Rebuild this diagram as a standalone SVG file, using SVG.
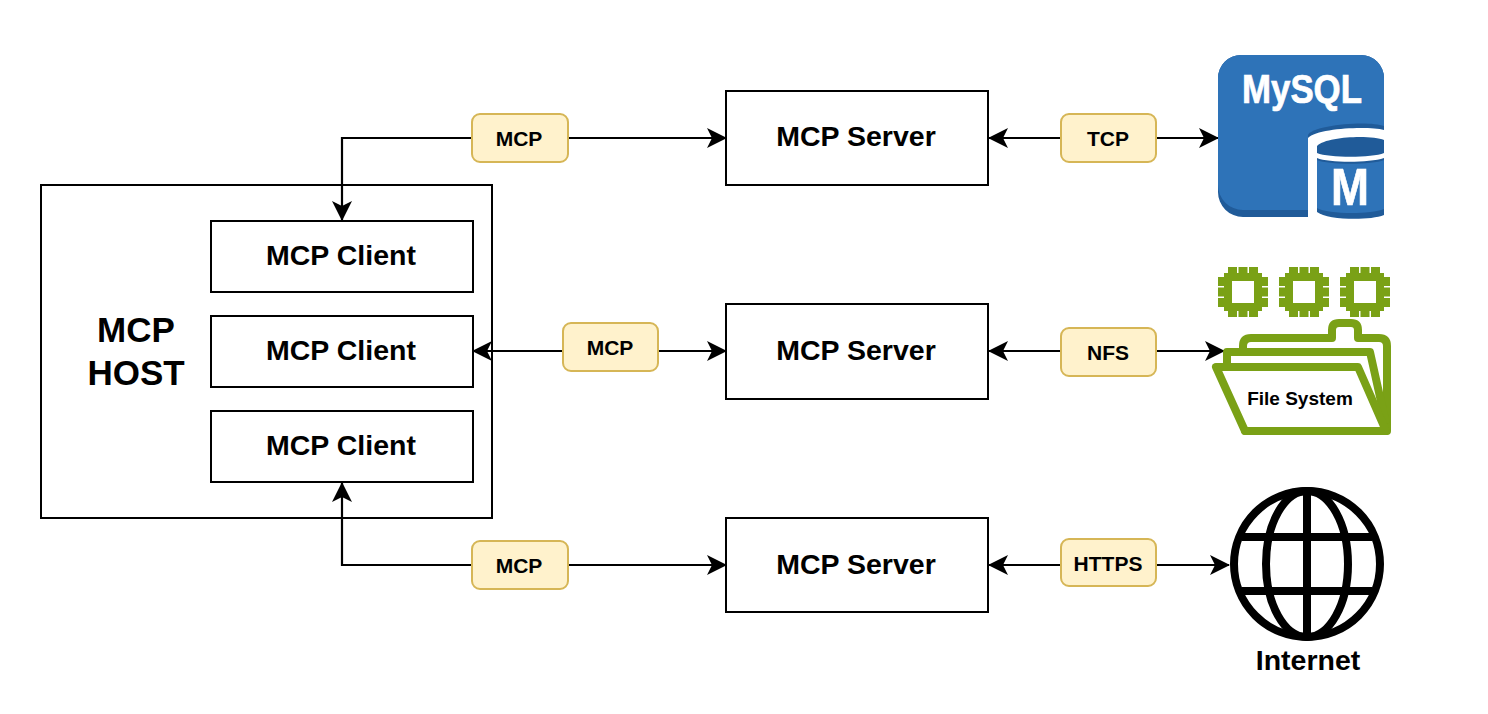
<svg xmlns="http://www.w3.org/2000/svg" width="1488" height="714" viewBox="0 0 1488 714">
<style>
text{font-family:"Liberation Sans",Arial,sans-serif;font-weight:700;fill:#000;text-anchor:middle}
.box{fill:#fff;stroke:#000;stroke-width:2}
.tag{fill:#fff2cc;stroke:#d6b656;stroke-width:2}
.t1{font-size:28.5px}
.t2{font-size:21px}
.big{font-size:35px}
.conn{fill:none;stroke:#000;stroke-width:2.2}
.fold{fill:#fff;stroke:#7aa116;stroke-width:8;stroke-linejoin:round}
.chip{fill:#7aa116}
.globe{fill:none;stroke:#000;stroke-width:8}
.logo{fill:#fff;stroke:#fff;stroke-width:.7}
</style>
<defs>
<marker id="a" viewBox="0 0 20 20" refX="19" refY="10" markerWidth="20" markerHeight="20" markerUnits="userSpaceOnUse" orient="auto-start-reverse"><path d="M0 0L20 10L0 20L5 10Z" fill="#000"/></marker>
<g id="chipShape">
<path class="chip" d="M-19-19H19V19H-19ZM-11-11V11H11V-11ZM-15-25h9v8h-9zM-4.500-25h9v8h-9zM6-25h9v8h-9zM-15 17h9v8h-9zM-4.500 17h9v8h-9zM6 17h9v8h-9zM-25-15h8v9h-8zM-25-4.500h8v9h-8zM-25 6h8v9h-8zM17-15h8v9h-8zM17-4.500h8v9h-8zM17 6h8v9h-8z"/>
</g>
</defs>
<rect width="1488" height="714" fill="#fff"/>
<g id="host"><rect class="box" x="41" y="185" width="451" height="333"/><text class="big" x="136" y="342">MCP</text><text class="big" x="136" y="385">HOST</text></g>
<g id="client1"><rect class="box" x="211" y="221" width="262" height="71"/><text class="t1" x="341" y="265">MCP Client</text></g>
<g id="client2"><rect class="box" x="211" y="316" width="262" height="71"/><text class="t1" x="341" y="360">MCP Client</text></g>
<g id="client3"><rect class="box" x="211" y="411" width="262" height="71"/><text class="t1" x="341" y="455">MCP Client</text></g>
<g id="server1"><rect class="box" x="726" y="91" width="262" height="94"/><text class="t1" x="856" y="146">MCP Server</text></g>
<g id="server2"><rect class="box" x="726" y="304" width="262" height="95"/><text class="t1" x="856" y="360">MCP Server</text></g>
<g id="server3"><rect class="box" x="726" y="518" width="262" height="94"/><text class="t1" x="856" y="574">MCP Server</text></g>
<g id="connectors">
<path class="conn" marker-start="url(#a)" marker-end="url(#a)" d="M726 138H342V220"/>
<path class="conn" marker-start="url(#a)" marker-end="url(#a)" d="M473 351H726"/>
<path class="conn" marker-start="url(#a)" marker-end="url(#a)" d="M726 565H342V483"/>
<path class="conn" marker-start="url(#a)" marker-end="url(#a)" d="M989 138H1218"/>
<path class="conn" marker-start="url(#a)" marker-end="url(#a)" d="M989 351H1224"/>
<path class="conn" marker-start="url(#a)" marker-end="url(#a)" d="M989 565H1229"/>
</g>
<g id="tag-mcp1"><rect class="tag" x="472" y="114" width="96" height="48" rx="8"/><text class="t2" x="519" y="146">MCP</text></g>
<g id="tag-mcp2"><rect class="tag" x="563" y="323" width="95" height="48" rx="8"/><text class="t2" x="610" y="355">MCP</text></g>
<g id="tag-mcp3"><rect class="tag" x="472" y="541" width="96" height="48" rx="8"/><text class="t2" x="519" y="573">MCP</text></g>
<g id="tag-tcp"><rect class="tag" x="1061" y="114" width="95" height="48" rx="8"/><text class="t2" x="1108" y="146">TCP</text></g>
<g id="tag-nfs"><rect class="tag" x="1061" y="328" width="95" height="48" rx="8"/><text class="t2" x="1108" y="360">NFS</text></g>
<g id="tag-https"><rect class="tag" x="1061" y="539" width="95" height="47" rx="8"/><text class="t2" x="1108" y="571">HTTPS</text></g>
<g id="mysql">
<path fill="#205b99" d="M1218 78a23 23 0 0 1 23-23h120a23 23 0 0 1 23 23v130h-76v9h-65a25 25 0 0 1-25-25z"/>
<path fill="#2e73b8" d="M1218 78a23 23 0 0 1 23-23h120a23 23 0 0 1 23 23v130h-76v2h-65a25 25 0 0 1-25-25z"/>
<path fill="#205b99" d="M1308 135c4-10 60-15 76-9v14h-76z"/>
<path fill="#fff" d="M1308 138c10-10 60-12 76-8v82h-66v6h-10z"/>
<path fill="#205b99" d="M1317 146c10-10 55-11 67-6v75c-15 6-57 5-67-3z"/>
<path fill="#2e73b8" d="M1317 160c12 5 55 5 67 0v49c-15 6-57 5-67-1z"/>
<path fill="#fff" d="M1317 153c12 5 55 5 67 0v5c-15 5-55 5-67 0z"/>
<text class="logo" x="1302" y="103" font-size="40" style="fill:#fff" textLength="120" lengthAdjust="spacingAndGlyphs">MySQL</text>
<text class="logo" x="1350" y="205" font-size="52" style="fill:#fff" textLength="38" lengthAdjust="spacingAndGlyphs">M</text>
</g>
<g id="filesystem">
<use href="#chipShape" x="1243" y="292"/>
<use href="#chipShape" x="1304" y="292"/>
<use href="#chipShape" x="1365" y="292"/>
<path class="fold" d="M1243 352v-6q0-8 8-8h81v-8q0-7 7-7h12q7 0 7 7v8h21q8 0 8 8v85H1245z"/>
<path class="fold" d="M1227 367v-15h143l16 72"/>
<path class="fold" d="M1216 367h142l28 64H1245z"/>
<text x="1300" y="405" font-size="19">File System</text>
</g>
<g id="internet">
<circle class="globe" cx="1307" cy="564" r="73"/>
<ellipse class="globe" cx="1307" cy="564" rx="41" ry="73"/>
<path class="globe" d="M1307 491V637M1242 537H1372M1242 591H1372"/>
<text x="1308" y="670" font-size="28.5">Internet</text>
</g>
</svg>
